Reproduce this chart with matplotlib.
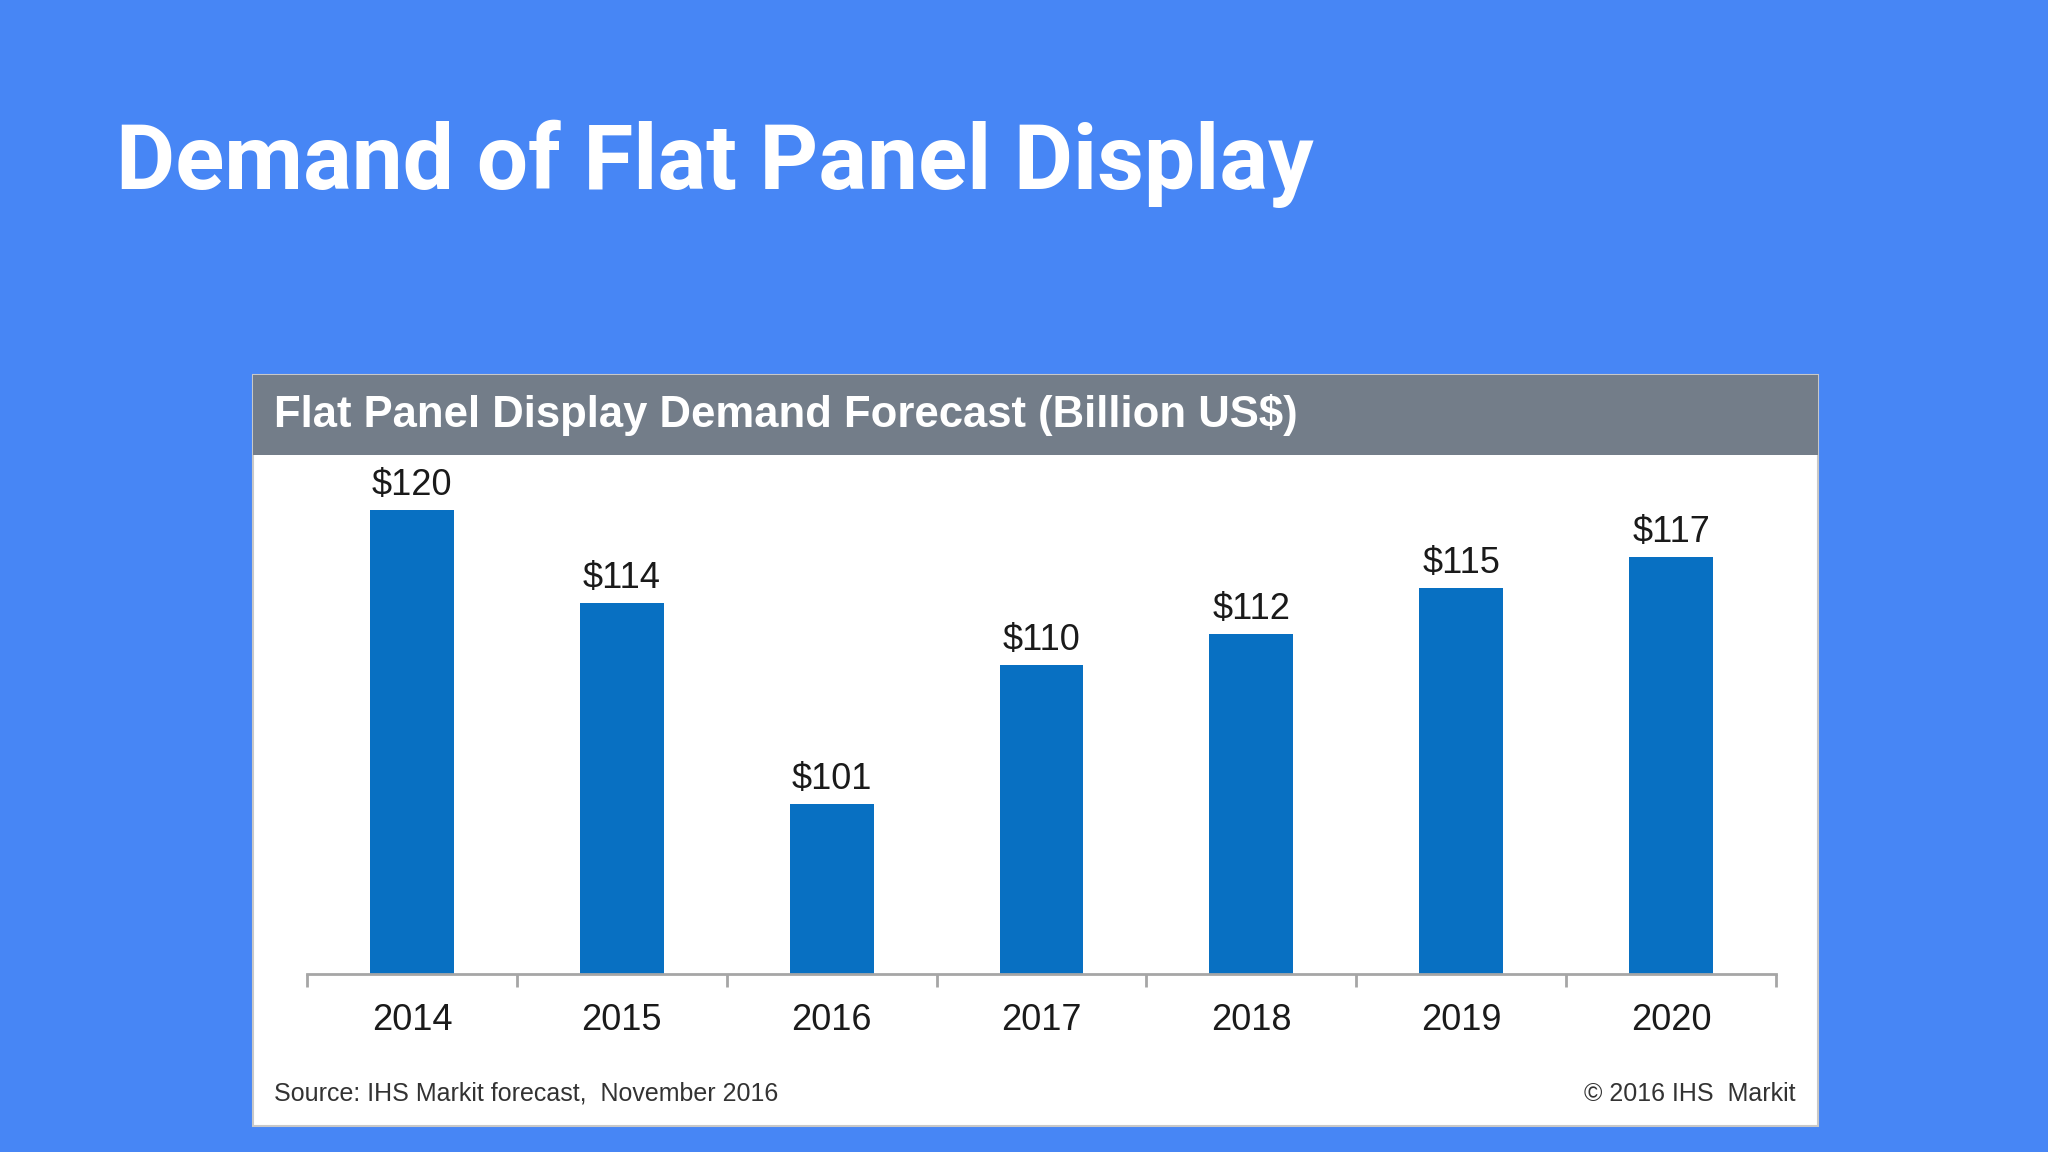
import matplotlib
matplotlib.use("Agg")
import matplotlib.pyplot as plt
from matplotlib.patches import Rectangle

years = ["2014", "2015", "2016", "2017", "2018", "2019", "2020"]
values = [120, 114, 101, 110, 112, 115, 117]
labels = ["$120", "$114", "$101", "$110", "$112", "$115", "$117"]

W, H = 2048, 1152
fig = plt.figure(figsize=(W / 100, H / 100), dpi=100)
fig.patch.set_facecolor("#4786F5")

def fx(px):
    return px / W

def fy(py):
    return 1 - py / H

# Title
fig.text(fx(116), fy(164), "Demand of Flat Panel Display", fontfamily="Roboto",
         fontweight="bold", fontsize=65.5, color="white", ha="left", va="center")

# Panel
fig.patches.append(Rectangle((fx(253), fy(1126)), fx(1818) - fx(253), fy(375) - fy(1126),
                             transform=fig.transFigure, facecolor="white",
                             edgecolor="#c8c8c8", linewidth=1.5, zorder=0))
fig.patches.append(Rectangle((fx(253), fy(455)), fx(1818) - fx(253), fy(375) - fy(455),
                             transform=fig.transFigure, facecolor="#737D89",
                             edgecolor="none", zorder=1))
fig.text(fx(274), fy(415), "Flat Panel Display Demand Forecast (Billion US$)",
         fontfamily="Liberation Sans", fontweight="bold", fontsize=31.4,
         color="white", ha="left", va="center")

# Footer texts
fig.text(fx(274), fy(1094), "Source: IHS Markit forecast,  November 2016",
         fontfamily="Liberation Sans", fontsize=18, color="#333333",
         ha="left", va="center")
fig.text(fx(1796), fy(1094), "\u00a9 2016 IHS  Markit",
         fontfamily="Liberation Sans", fontsize=18, color="#333333",
         ha="right", va="center")

# Bars axes
ax = fig.add_axes([fx(307), fy(974), fx(1776) - fx(307), fy(460) - fy(974)])
ax.set_zorder(3)
ax.set_facecolor("none")
x = list(range(len(years)))
ax.bar(x, values, width=0.40, color="#0870C2")
ax.set_xlim(-0.5, len(years) - 0.5)
ax.set_ylim(90, 123.25)
for xi, v, lab in zip(x, values, labels):
    ax.annotate(lab, (xi, v), xytext=(0, 5), textcoords="offset points",
                ha="center", va="bottom", fontfamily="Liberation Sans",
                fontsize=26, color="#1a1a1a")

for s in ["top", "left", "right"]:
    ax.spines[s].set_visible(False)
ax.spines["bottom"].set_color("#a6a6a6")
ax.spines["bottom"].set_linewidth(2)
ax.set_yticks([])
ax.set_xticks(x)
ax.set_xticklabels(years, fontfamily="Liberation Sans", fontsize=26, color="#1a1a1a")
ax.tick_params(axis="x", which="major", length=0, pad=21)
ax.set_xticks([i - 0.5 for i in range(len(years) + 1)], minor=True)
ax.tick_params(axis="x", which="minor", length=9, width=2, color="#a6a6a6", direction="out")

fig.savefig("out.png", dpi=100, facecolor=fig.get_facecolor())
